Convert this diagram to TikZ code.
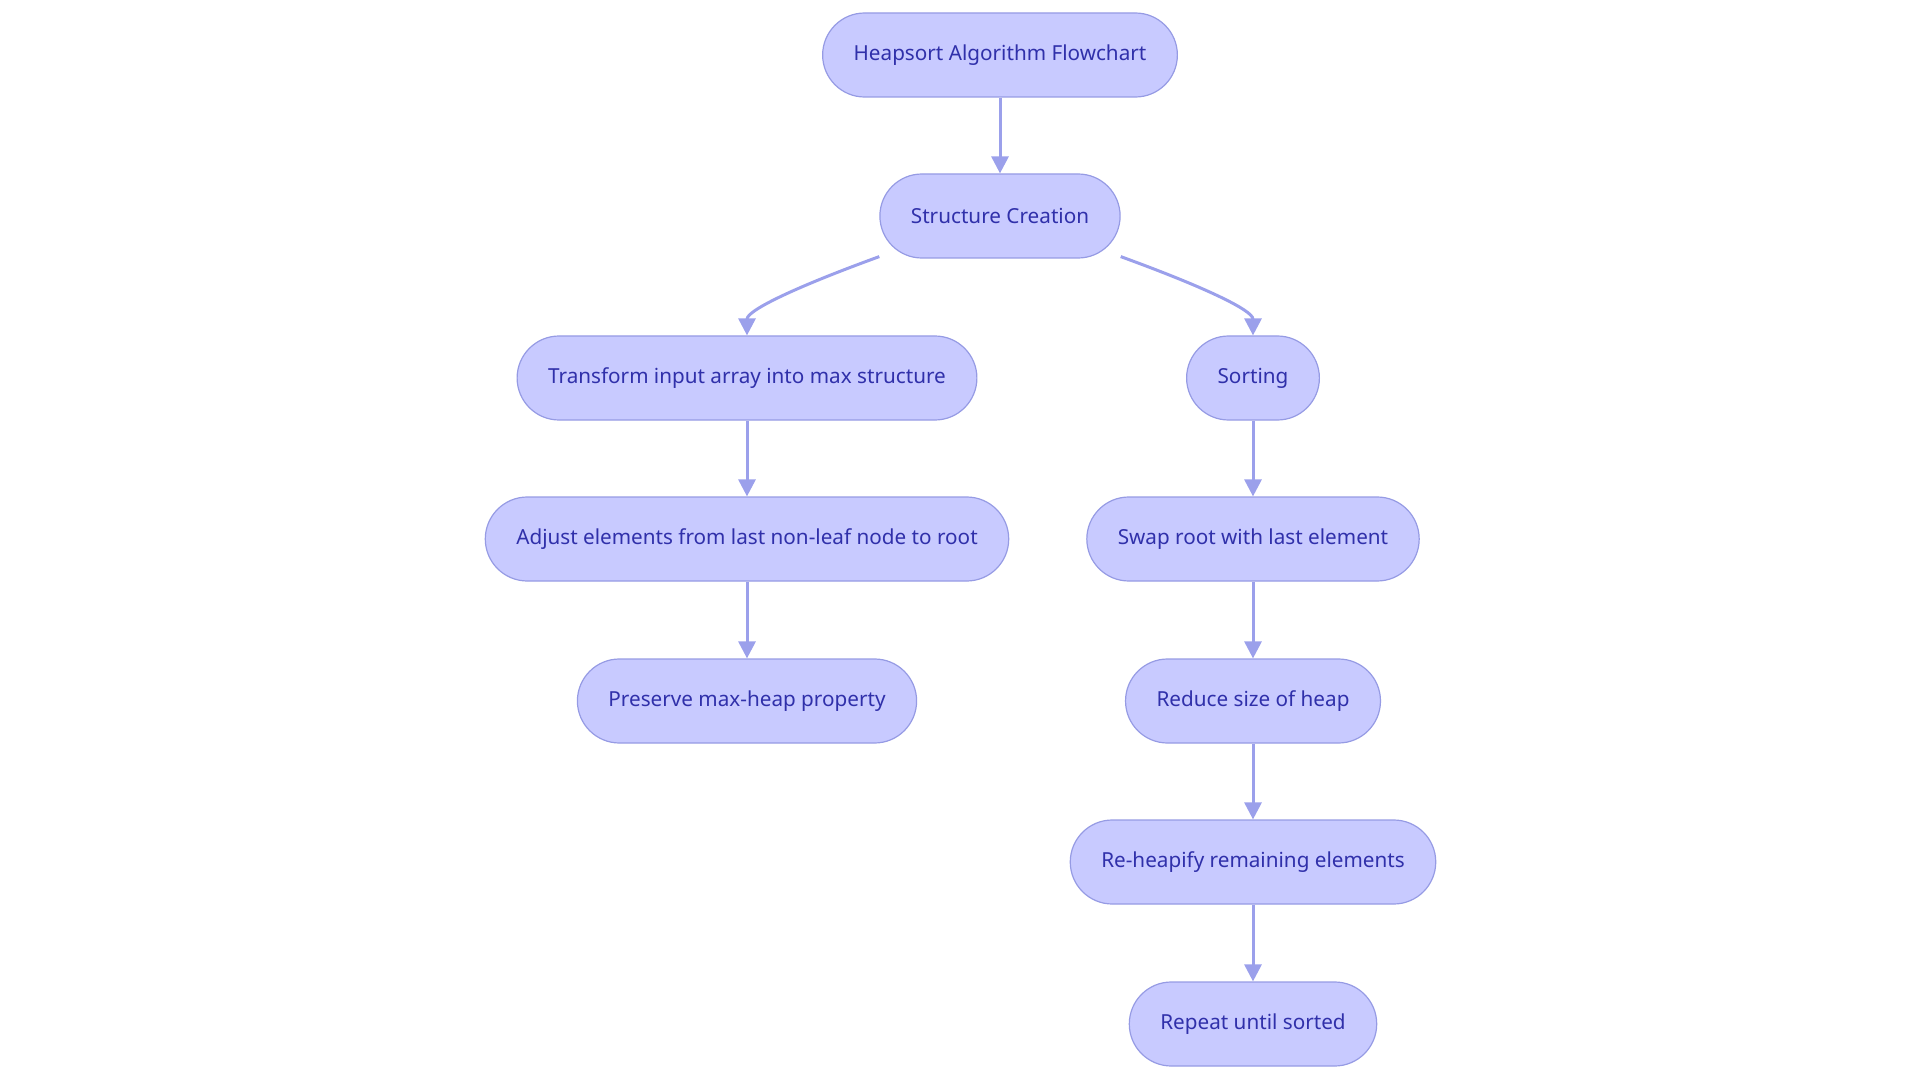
\documentclass[tikz,border=0pt]{standalone}
\usepackage{fontspec}
\setmainfont{Noto Sans}
\usetikzlibrary{arrows.meta}
\definecolor{nodefill}{RGB}{200,202,255}
\definecolor{nodeline}{RGB}{150,155,228}
\definecolor{edgeline}{RGB}{155,160,235}
\definecolor{nodetext}{RGB}{48,48,170}
\tikzset{flowbox/.style={draw=nodeline, fill=nodefill, text=nodetext, line width=1.2pt, rounded corners=42pt, minimum height=84pt, inner xsep=31pt, font=\fontsize{20.7}{24}\selectfont},
         flowarrow/.style={draw=edgeline, line width=3pt, -{Triangle[length=17pt,width=17pt]}}}

\begin{document}
\begin{tikzpicture}[x=1pt,y=1pt]
    \useasboundingbox (0,0) rectangle (1920,-1083);
    % main column
    \node[flowbox] (title) at (1000,-55) {Heapsort Algorithm Flowchart};
    \node[flowbox] (create) at (1000,-216) {Structure Creation};
    % left column
    \node[flowbox] (transform) at (747,-378) {Transform input array into max structure};
    \node[flowbox] (adjust) at (747,-539) {Adjust elements from last non-leaf node to root};
    \node[flowbox] (preserve) at (747,-701) {Preserve max-heap property};
    % right column
    \node[flowbox] (sorting) at (1253,-378) {Sorting};
    \node[flowbox] (swap) at (1253,-539) {Swap root with last element};
    \node[flowbox] (reduce) at (1253,-701) {Reduce size of heap};
    \node[flowbox] (reheap) at (1253,-862) {Re-heapify remaining elements};
    \node[flowbox] (repeat) at (1253,-1024) {Repeat until sorted};

    \foreach \a/\b in {title/create, transform/adjust, adjust/preserve, sorting/swap, swap/reduce, reduce/reheap, reheap/repeat}
        \draw[flowarrow] (\a) -- (\b);
    \draw[flowarrow] ([yshift=2pt]create.south west) to[out=200, in=90, out distance=90pt, in distance=25pt] (transform.north);
    \draw[flowarrow] ([yshift=2pt]create.south east) to[out=-20, in=90, out distance=90pt, in distance=25pt] (sorting.north);
\end{tikzpicture}
\end{document}
